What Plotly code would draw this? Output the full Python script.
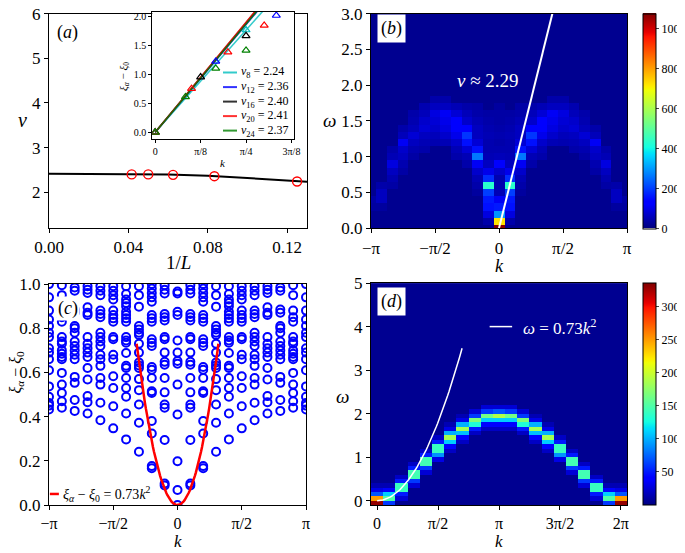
import numpy as np
import plotly.graph_objects as go

# page body adds an 8px margin; figure is sized so it fits the 685x553 window
OX, OY = 8, 8
FW, FH = 677, 545
PI = np.pi
FONT = "Liberation Serif"

# ---------------- data: panel (a) ----------------
inv_L = [1/24, 1/20, 1/16, 1/12, 1/8]
v_L = [2.40, 2.40, 2.39, 2.36, 2.24]
fit_x = [0.0, 0.02, 0.04, 0.06, 0.08, 0.10, 0.12, 0.13]
fit_y = [2.417, 2.416, 2.412, 2.400, 2.372, 2.325, 2.268, 2.238]

# inset of (a)
inset_names = ["8", "12", "16", "20", "24"]
inset_v = [2.24, 2.36, 2.40, 2.41, 2.37]
inset_colors = ["rgb(0,191,191)", "rgb(0,0,255)", "rgb(0,0,0)", "rgb(255,0,0)", "rgb(0,128,0)"]
inset_k = [[0, PI/4], [0, PI/6, PI/3], [0, PI/8, PI/4], [0, PI/10, PI/5, 3*PI/10], [0, PI/12, PI/6, PI/4]]
inset_xi = [[0, 1.76], [0, 1.22, 2.01], [0, 0.95, 1.66], [0, 0.75, 1.38, 1.84], [0, 0.61, 1.10, 1.41]]
inset_kmax = 0.93

# ---------------- data: panel (b) ----------------
b_v = 2.29
b_background = 15
b_cell_n = ([0]*18 + [1]*16 + [2]*13 + [3]*9 + [4]*8 + [5]*7 + [6]*7 + [7]*7 + [8]*7 + [9]*7 + [10]*6 + [11]*4 + [12]*2)
b_cell_j = ([0, 1, 2, 3, 4, 5, 6, 7, 8, 9, 10, 11, 12, 13, 14, 15, 16, 17] +
            [1, 2, 3, 4, 5, 6, 7, 8, 9, 10, 11, 12, 13, 14, 15, 16] +
            [5, 6, 7, 8, 9, 10, 11, 12, 13, 14, 15, 16, 17] +
            [9, 10, 11, 12, 13, 14, 15, 16, 17] +
            [10, 11, 12, 13, 14, 15, 16, 17] +
            [12, 13, 14, 15, 16, 17, 18] +
            [12, 13, 14, 15, 16, 17, 18] +
            [11, 12, 13, 14, 15, 16, 17] +
            [10, 11, 12, 13, 14, 15, 16] +
            [8, 9, 10, 11, 12, 13, 14] +
            [6, 7, 8, 9, 10, 11] +
            [3, 4, 5, 6] +
            [3, 4])
b_cell_val = ([1070, 720, 290, 160, 110, 50, 45, 45, 70, 120, 55, 45, 40, 45, 40, 35, 35, 30] +
              [40, 90, 150, 160, 200, 430, 180, 100, 60, 50, 45, 45, 50, 45, 40, 35] +
              [30, 40, 50, 70, 110, 260, 150, 80, 60, 60, 50, 40, 35] +
              [40, 50, 80, 150, 190, 120, 70, 55, 40] +
              [40, 50, 70, 100, 130, 120, 80, 50] +
              [50, 70, 90, 100, 110, 60, 40] +
              [45, 55, 70, 80, 90, 60, 40] +
              [40, 50, 60, 80, 70, 55, 45] +
              [35, 45, 60, 80, 55, 45, 40] +
              [35, 45, 60, 70, 110, 55, 40] +
              [35, 45, 60, 90, 50, 40] +
              [30, 60, 60, 40] +
              [30, 35])
b_zmax = 1075

# ---------------- data: panel (c) ----------------
c_coef = 0.73
c_cols = {
    0: [0.0, 0.068, 0.198, 0.41, 0.545, 0.64, 0.652, 0.69, 0.745, 0.86, 0.875, 0.958, 0.966],
    1: [0.088, 0.097, 0.294, 0.44, 0.455, 0.51, 0.575, 0.635, 0.648, 0.69, 0.75, 0.76, 0.835, 0.85, 0.865, 0.958, 0.975, 0.995],
    2: [0.166, 0.176, 0.324, 0.38, 0.507, 0.515, 0.575, 0.612, 0.625, 0.72, 0.735, 0.75, 0.83, 0.845, 0.86, 0.92, 0.94, 0.96, 0.98, 1.0],
    3: [0.241, 0.372, 0.455, 0.52, 0.57, 0.62, 0.632, 0.645, 0.69, 0.73, 0.77, 0.78, 0.795, 0.81, 0.898, 0.95, 0.99],
    4: [0.297, 0.414, 0.49, 0.53, 0.575, 0.62, 0.63, 0.688, 0.735, 0.745, 0.76, 0.83, 0.845, 0.86, 0.875, 0.9, 0.915, 0.93, 0.955, 0.99],
    5: [0.347, 0.447, 0.53, 0.583, 0.66, 0.68, 0.75, 0.76, 0.83, 0.845, 0.86, 0.88, 0.93, 0.95, 0.97, 0.99],
    6: [0.384, 0.463, 0.545, 0.575, 0.63, 0.66, 0.68, 0.72, 0.74, 0.76, 0.78, 0.85, 0.865, 0.88, 0.95, 0.97, 0.99],
    7: [0.414, 0.465, 0.493, 0.568, 0.62, 0.67, 0.69, 0.71, 0.73, 0.76, 0.86, 0.87, 0.895, 0.96, 0.975, 0.99],
    8: [0.426, 0.475, 0.553, 0.58, 0.66, 0.68, 0.7, 0.72, 0.74, 0.78, 0.8, 0.81, 0.87, 0.885, 0.97, 0.985],
    9: [0.44, 0.47, 0.507, 0.545, 0.598, 0.66, 0.67, 0.685, 0.7, 0.73, 0.74, 0.76, 0.83, 0.85, 0.88, 0.95, 0.995],
    10: [0.432, 0.45, 0.462, 0.49, 0.537, 0.61, 0.66, 0.69, 0.71, 0.76, 0.78, 0.81, 0.84, 0.88, 0.94, 1.0],
}
c_kmax = 1.0

# ---------------- data: panel (d) ----------------
d_coef = 0.73
d_kmax = 2.19
d_background = 5
d_cell_n = [0]*5 + [1]*5 + [2]*6 + [3]*6 + [4]*6 + [5]*6 + [6]*7 + [7]*7 + [8]*6 + [9]*6 + [10]*6
d_cell_j = ([0, 1, 2, 3, 4] + [0, 1, 2, 3, 4] + [1, 2, 3, 4, 5, 6] + [4, 5, 6, 7, 8, 9] +
            [7, 8, 9, 10, 11, 12] + [10, 11, 12, 13, 14, 15] + [12, 13, 14, 15, 16, 17, 18] +
            [14, 15, 16, 17, 18, 19, 20] + [16, 17, 18, 19, 20, 21] + [17, 18, 19, 20, 21, 22] +
            [17, 18, 19, 20, 21, 22])
d_cell_val = ([330, 250, 70, 30, 15] + [60, 150, 110, 40, 15] + [25, 50, 140, 140, 50, 20] +
              [25, 60, 145, 145, 50, 20] + [25, 60, 145, 145, 50, 20] + [30, 90, 140, 140, 50, 20] +
              [20, 40, 110, 185, 100, 30, 15] + [20, 40, 105, 185, 100, 30, 15] +
              [20, 50, 130, 170, 60, 25] + [20, 40, 110, 165, 60, 25] + [20, 40, 110, 190, 70, 25])
d_zmax = 336

# ---------------- helpers ----------------
def px(x):
    return (x - OX) / FW

def py(y):
    return max(0.0, min(1.0, 1 - (y - OY) / FH))

def jet_scale():
    def f(t):
        r = np.interp(t, [0, 0.35, 0.66, 0.89, 1], [0, 0, 1, 1, 0.5])
        g = np.interp(t, [0, 0.125, 0.375, 0.64, 0.91, 1], [0, 0, 1, 1, 0, 0])
        b = np.interp(t, [0, 0.11, 0.34, 0.65, 1], [0.5, 1, 1, 0, 0])
        return "rgb(%d,%d,%d)" % (round(r*255), round(g*255), round(b*255))
    ts = sorted(set(list(np.round(np.linspace(0, 1, 41), 4)) + [0.11, 0.125, 0.34, 0.35, 0.375, 0.64, 0.65, 0.66, 0.89, 0.91]))
    return [[float(t), f(t)] for t in ts]

JET = jet_scale()

TOP_A = 13.5     # top edge of upper panels (window pixels)
TOP_IN = 12      # top edge of the inset
BOT_C = 505      # bottom edge of lower panels

def cbar(top, bottom, vals):
    return dict(x=px(643), xanchor="left", y=py(top), yanchor="top",
                len=(bottom - top)/FH, lenmode="fraction", thickness=13,
                thicknessmode="pixels", xpad=0, ypad=0, outlinewidth=1,
                outlinecolor="black", ticks="outside", ticklen=3, tickvals=vals,
                tickfont=dict(family=FONT, size=12, color="black"))

fig = go.Figure()

# panel (a)
fig.add_trace(go.Scatter(x=fit_x, y=fit_y, mode="lines", line=dict(color="black", width=2),
                         xaxis="x", yaxis="y", showlegend=False))
fig.add_trace(go.Scatter(x=inv_L, y=v_L, mode="markers",
                         marker=dict(symbol="circle-open", size=9, color="red", line=dict(width=1.4, color="red")),
                         xaxis="x", yaxis="y", showlegend=False))

# inset
for name, v, col in zip(inset_names, inset_v, inset_colors):
    kline = np.array([0.0, inset_kmax])
    fig.add_trace(go.Scatter(x=kline, y=v*kline, mode="lines", line=dict(color=col, width=1.6),
                             opacity=0.8, xaxis="x2", yaxis="y2", showlegend=False))
for col, ks, xs in zip(inset_colors, inset_k, inset_xi):
    fig.add_trace(go.Scatter(x=ks, y=xs, mode="markers",
                             marker=dict(symbol="triangle-up-open", size=7, color=col, line=dict(width=1.2, color=col)),
                             xaxis="x2", yaxis="y2", showlegend=False))

# panel (b)
b_k = [n*PI/12 for n in range(-12, 13)]
b_w = [j*0.1 for j in range(31)]
b_z = np.full((31, 25), float(b_background))
for n, j, val in zip(b_cell_n, b_cell_j, b_cell_val):
    b_z[j, 12+n] = val
    b_z[j, 12-n] = val
fig.add_trace(go.Heatmap(x=b_k, y=b_w, z=b_z, colorscale=JET, zmin=0, zmax=b_zmax,
                         xaxis="x3", yaxis="y3", colorbar=cbar(TOP_A, 228.3, [0, 200, 400, 600, 800, 1000])))
kb = np.array([0.0, 3.0/b_v])
fig.add_trace(go.Scatter(x=kb, y=b_v*kb, mode="lines", line=dict(color="white", width=2),
                         xaxis="x3", yaxis="y3", showlegend=False))

# panel (c)
for n in range(-10, 11):
    vals = c_cols[abs(n)]
    fig.add_trace(go.Scatter(x=[n*PI/10]*len(vals), y=vals, mode="markers",
                             marker=dict(symbol="circle-open", size=8, color="blue", line=dict(width=2, color="blue")),
                             xaxis="x4", yaxis="y4", showlegend=False))
kc = np.linspace(-c_kmax, c_kmax, 81)
fig.add_trace(go.Scatter(x=kc, y=c_coef*kc**2, mode="lines", line=dict(color="red", width=2.5),
                         xaxis="x4", yaxis="y4", showlegend=False))

# panel (d)
d_k = [n*PI/10 for n in range(21)]
d_w = [(j-0.5)*0.1 for j in range(51)]
d_z = np.full((51, 21), float(d_background))
for n, j, val in zip(d_cell_n, d_cell_j, d_cell_val):
    d_z[j, n] = val
    d_z[j, 20-n] = val
fig.add_trace(go.Heatmap(x=d_k, y=d_w, z=d_z, colorscale=JET, zmin=0, zmax=d_zmax,
                         xaxis="x5", yaxis="y5", colorbar=cbar(283, BOT_C, [50, 100, 150, 200, 250, 300])))
kd = np.linspace(0, d_kmax, 60)
fig.add_trace(go.Scatter(x=kd, y=d_coef*kd**2, mode="lines", line=dict(color="white", width=1.5),
                         xaxis="x5", yaxis="y5", showlegend=False))

# ---------------- axes ----------------
def ax(domain, anchor, rng, size=17, **kw):
    d = dict(domain=domain, anchor=anchor, range=rng, showline=True, mirror=True, linecolor="black",
             linewidth=1, ticks="outside", ticklen=4, tickwidth=1, tickcolor="black",
             showgrid=False, zeroline=False, ticklabeloverflow="allow",
             tickfont=dict(family=FONT, size=size, color="black"))
    d.update(kw)
    return d

pi_vals = [-PI, -PI/2, 0, PI/2, PI]
pi_text = ["−π", "−π/2", "0", "π/2", "π"]

layout = dict(
    width=FW, height=FH, paper_bgcolor="white", plot_bgcolor="white",
    margin=dict(l=0, r=0, t=0, b=0, autoexpand=False),
    showlegend=False,
    xaxis=ax([px(49), px(307)], "y", [0, 0.13], tickvals=[0, 0.04, 0.08, 0.12], tickformat=".2f"),
    yaxis=ax([py(228), py(TOP_A)], "x", [1.2, 6.002], tickvals=[2, 3, 4, 5, 6]),
    xaxis2=ax([px(152.3), px(294)], "y2", [-0.025, 1.2], size=10,
              tickvals=[0, PI/8, PI/4, 3*PI/8], ticktext=["0", "π/8", "π/4", "3π/8"], ticklen=3),
    yaxis2=ax([py(139.3), py(TOP_IN)], "x2", [-0.12, 2.07], size=10,
              tickvals=[0, 0.5, 1.0, 1.5, 2.0], tickformat=".1f", ticklen=3),
    xaxis3=ax([px(371), px(627)], "y3", [-PI - 1e-6, PI + 1e-6], tickvals=pi_vals, ticktext=pi_text),
    yaxis3=ax([py(228.3), py(TOP_A)], "x3", [0, 3.001], tickvals=[0, 0.5, 1, 1.5, 2, 2.5, 3], tickformat=".1f"),
    xaxis4=ax([px(49), px(306)], "y4", [-PI - 1e-6, PI + 1e-6], size=16, tickvals=pi_vals, ticktext=pi_text),
    yaxis4=ax([py(BOT_C), py(284)], "x4", [0, 1.0005], tickvals=[0, 0.2, 0.4, 0.6, 0.8, 1.0], tickformat=".1f"),
    xaxis5=ax([px(371), px(627)], "y5", [-PI/20, 2*PI + PI/20], size=16, tickvals=[0, PI/2, PI, 3*PI/2, 2*PI],
              ticktext=["0", "π/2", "π", "3π/2", "2π"]),
    yaxis5=ax([py(BOT_C), py(283)], "x5", [-0.1, 5.002], tickvals=[0, 1, 2, 3, 4, 5]),
)

ann = []
def paper_text(x, y, text, size=19, angle=0, color="black", **kw):
    a = dict(xref="paper", yref="paper", x=px(x), y=py(y), text=text, showarrow=False,
             font=dict(family=FONT, size=size, color=color), textangle=angle,
             xanchor="center", yanchor="middle")
    a.update(kw)
    ann.append(a)

xi_lbl = "<i>ξ</i><sub><i>α</i></sub> − <i>ξ</i><sub>0</sub>"
# axis titles
paper_text(22, 120, "<i>v</i>", size=20)
paper_text(178, 262, "1/<i>L</i>", size=19)
paper_text(329, 120, "<i>ω</i>", size=19)
paper_text(499, 266, "<i>k</i>", size=18)
paper_text(15.5, 372, xi_lbl, size=16, angle=-90)
paper_text(178, 553, "<i>k</i>", size=17, yanchor="bottom")
paper_text(342, 396, "<i>ω</i>", size=19)
paper_text(499, 553, "<i>k</i>", size=17, yanchor="bottom")
paper_text(124, 77, xi_lbl, size=11, angle=-90)
paper_text(223, 163, "<i>k</i>", size=11)

# panel labels
paper_text(67, 33, "(<i>a</i>)", size=18)
paper_text(391, 28, "(<i>b</i>)", size=18, bgcolor="white", borderpad=3)
paper_text(68, 308, "(<i>c</i>)", size=18, bgcolor="white", borderpad=1)
paper_text(391, 301, "(<i>d</i>)", size=18, bgcolor="white", borderpad=3)

# inset legend
shapes = []
leg_rows = [72.5, 87.1, 101.6, 116.1, 130.6]
for name, v, col, yy in zip(inset_names, inset_v, inset_colors, leg_rows):
    shapes.append(dict(type="line", xref="paper", yref="paper", x0=px(223), x1=px(237),
                       y0=py(yy), y1=py(yy), line=dict(color=col, width=2), opacity=0.8))
    paper_text(239, yy, "<i>v</i><sub>%s</sub> = %.2f" % (name, v), size=12, xanchor="left")

# panel (b) text
ann.append(dict(xref="x3", yref="y3", x=-0.26, y=2.06, text="<i>v</i> ≈ %.2f" % b_v, showarrow=False,
                font=dict(family=FONT, size=19, color="white")))
# panel (c) legend
shapes.append(dict(type="line", xref="x4", yref="y4", x0=-3.12, x1=-2.90, y0=0.05, y1=0.05,
                   line=dict(color="red", width=2.5)))
ann.append(dict(xref="x4", yref="y4", x=-2.86, y=0.05, xanchor="left",
                text="%s = %.2f<i>k</i><sup>2</sup>" % (xi_lbl, c_coef), showarrow=False,
                font=dict(family=FONT, size=14, color="black")))
# panel (d) legend
shapes.append(dict(type="line", xref="x5", yref="y5", x0=2.9, x1=3.48, y0=4.0, y1=4.0,
                   line=dict(color="white", width=1.5)))
ann.append(dict(xref="x5", yref="y5", x=3.72, y=4.0, xanchor="left",
                text="<i>ω</i> = %.2f<i>k</i><sup>2</sup>" % d_coef, showarrow=False,
                font=dict(family=FONT, size=17, color="white")))

layout["annotations"] = ann
layout["shapes"] = shapes
fig.update_layout(**layout)
fig.write_html("out.html")
